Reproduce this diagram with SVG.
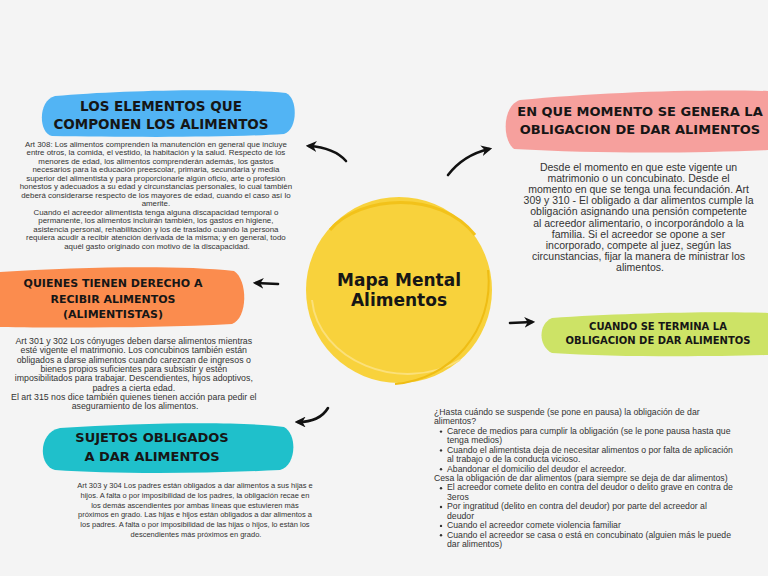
<svg xmlns="http://www.w3.org/2000/svg" width="768" height="576" viewBox="0 0 768 576">
<defs>
<style>
.hd{font-family:"DejaVu Sans",sans-serif;font-weight:bold;fill:#161616;text-anchor:middle}
.bd{font-family:"Liberation Sans",Arial,sans-serif;fill:#333;text-anchor:middle}
.bl{font-family:"Liberation Sans",Arial,sans-serif;fill:#333}
.con{fill:none;stroke:#111;stroke-width:2.6;stroke-linecap:round;marker-end:url(#ah)}
</style>
<marker id="ah" viewBox="0 0 10 10" refX="7" refY="5" markerWidth="4.2" markerHeight="4.2" orient="auto" markerUnits="strokeWidth">
<path d="M0,0 L10,5 L0,10 L3,5 Z" fill="#111"/>
</marker>
</defs>
<rect width="768" height="576" fill="#f4f4f4"/>

<g id="connectors">
<path class="con" d="M346 161 C338 152 325 147 309 146"/>
<path class="con" d="M448 175 C458 162 472 153 489 149"/>
<path class="con" d="M278 284 L256 283"/>
<path class="con" d="M510 323 L532 322"/>
<path class="con" d="M328 408 C322 418 310 422 298 422"/>
</g>

<g id="center">
<circle cx="399" cy="290" r="93" fill="#f8d23c"/>
<path d="M330 230 C360 195 440 190 475 235" fill="none" stroke="#f2c21a" stroke-width="3"/>
<path d="M312 300 C318 360 400 395 460 360" fill="none" stroke="#fbe07a" stroke-width="2"/>
<path d="M488 270 C495 330 450 380 395 384" fill="none" stroke="#efbd14" stroke-width="2"/>
<text class="hd" x="399" y="286" font-size="17">Mapa Mental</text>
<text class="hd" x="399" y="306" font-size="17">Alimentos</text>
</g>

<g id="n-elementos">
<path d="M55 96 C120 90 230 88 286 93 C298 98 298 130 284 134 C220 138 120 137 52 136 C38 133 38 100 55 96 Z" fill="#52b4f4"/>
<text class="hd" x="161" y="111" font-size="13.5">LOS ELEMENTOS QUE</text>
<text class="hd" x="161" y="129" font-size="13.5">COMPONEN LOS ALIMENTOS</text>
<text class="bd" font-size="7.9">
<tspan x="157" y="146.5">Art 308: Los alimentos comprenden la manutención en general que incluye</tspan>
<tspan x="157" dy="8.5">entre otros, la comida, el vestido, la habitación y la salud. Respecto de los</tspan>
<tspan x="157" dy="8.5">menores de edad, los alimentos comprenderán además, los gastos</tspan>
<tspan x="157" dy="8.5">necesarios para la educación preescolar, primaria, secundaria y media</tspan>
<tspan x="157" dy="8.5">superior del alimentista y para proporcionarle algún oficio, arte o profesión</tspan>
<tspan x="157" dy="8.5">honestos y adecuados a su edad y circunstancias personales, lo cual también</tspan>
<tspan x="157" dy="8.5">deberá considerarse respecto de los mayores de edad, cuando el caso así lo</tspan>
<tspan x="157" dy="8.5">amerite.</tspan>
<tspan x="157" dy="8.5">Cuando el acreedor alimentista tenga alguna discapacidad temporal o</tspan>
<tspan x="157" dy="8.5">permanente, los  alimentos incluirán también, los gastos en higiene,</tspan>
<tspan x="157" dy="8.5">asistencia personal, rehabilitación y los de traslado cuando la persona</tspan>
<tspan x="157" dy="8.5">requiera acudir a recibir atención derivada de la misma; y en general, todo</tspan>
<tspan x="157" dy="8.5">aquél gasto originado con motivo de la discapacidad.</tspan>
</text>
</g>

<g id="n-momento">
<path d="M520 100 C600 92 700 89 768 91 L768 150 C700 153 600 154 514 149 C502 140 502 106 520 100 Z" fill="#f6a09d"/>
<text class="hd" x="640" y="116" font-size="13">EN QUE MOMENTO SE GENERA LA</text>
<text class="hd" x="640" y="134" font-size="13">OBLIGACION DE DAR ALIMENTOS</text>
<text class="bd" font-size="10.5">
<tspan x="640" y="171">Desde el momento en que este vigente un</tspan>
<tspan x="640" dy="11.1">matrimonio o un concubinato. Desde el</tspan>
<tspan x="640" dy="11.1">momento en que se tenga una fecundación. Art</tspan>
<tspan x="640" dy="11.1">309 y 310 - El obligado a dar alimentos cumple la</tspan>
<tspan x="640" dy="11.1">obligación asignando una pensión competente</tspan>
<tspan x="640" dy="11.1">al acreedor alimentario, o incorporándolo a la</tspan>
<tspan x="640" dy="11.1">familia. Si el acreedor se opone a ser</tspan>
<tspan x="640" dy="11.1">incorporado, compete al juez, según las</tspan>
<tspan x="640" dy="11.1">circunstancias, fijar la manera de ministrar los</tspan>
<tspan x="640" dy="11.1">alimentos.</tspan>
</text>
</g>

<g id="n-quienes">
<path d="M0 272 C80 267 180 265 234 271 C248 280 248 318 232 324 C160 328 60 328 0 327 Z" fill="#fb8c4e"/>
<text class="hd" x="113" y="287" font-size="11">QUIENES TIENEN DERECHO A</text>
<text class="hd" x="113" y="303" font-size="11">RECIBIR ALIMENTOS</text>
<text class="hd" x="113" y="318" font-size="11">(ALIMENTISTAS)</text>
<text class="bd" font-size="8.8">
<tspan x="135" y="344">Art 301 y 302 Los cónyuges deben darse alimentos mientras</tspan>
<tspan x="135" dy="9.3">esté vigente el matrimonio. Los concubinos también están</tspan>
<tspan x="135" dy="9.3">obligados a darse alimentos cuando carezcan de ingresos o</tspan>
<tspan x="135" dy="9.3">bienes propios suficientes para subsistir y estén</tspan>
<tspan x="135" dy="9.3">imposibilitados para trabajar. Descendientes, hijos adoptivos,</tspan>
<tspan x="135" dy="9.3">padres a cierta edad.</tspan>
<tspan x="135" dy="9.3">El art 315 nos dice también quienes tienen acción para pedir el</tspan>
<tspan x="135" dy="9.3">aseguramiento de los alimentos.</tspan>
</text>
</g>

<g id="n-termina">
<path d="M552 318 C620 313 720 311 768 313 L768 355 C700 357 610 357 552 353 C538 346 538 324 552 318 Z" fill="#cde366"/>
<text class="hd" x="658" y="330" font-size="10">CUANDO SE TERMINA LA</text>
<text class="hd" x="658" y="344" font-size="10">OBLIGACION DE DAR ALIMENTOS</text>
<text class="bl" font-size="8.7">
<tspan x="434" y="415">¿Hasta cuándo se suspende (se pone en pausa) la obligación de dar</tspan>
<tspan x="434" dy="9.43">alimentos?</tspan>
<tspan x="447" dy="9.43">Carece de medios para cumplir la obligación (se le pone pausa hasta que</tspan>
<tspan x="447" dy="9.43">tenga medios)</tspan>
<tspan x="447" dy="9.43">Cuando el alimentista deja de necesitar alimentos o por falta de aplicación</tspan>
<tspan x="447" dy="9.43">al trabajo o de la conducta vicioso.</tspan>
<tspan x="447" dy="9.43">Abandonar el domicilio del deudor el acreedor.</tspan>
<tspan x="434" dy="9.43">Cesa la obligación de dar alimentos (para siempre se deja de dar alimentos)</tspan>
<tspan x="447" dy="9.43">El acreedor comete delito en contra del deudor o delito grave en contra de</tspan>
<tspan x="447" dy="9.43">3eros</tspan>
<tspan x="447" dy="9.43">Por ingratitud (delito en contra del deudor) por parte del acreedor al</tspan>
<tspan x="447" dy="9.43">deudor</tspan>
<tspan x="447" dy="9.43">Cuando el acreedor comete violencia familiar</tspan>
<tspan x="447" dy="9.43">Cuando el acreedor se casa o está en concubinato (alguien más le puede</tspan>
<tspan x="447" dy="9.43">dar alimentos)</tspan>
</text>
<g fill="#333">
<circle cx="441" cy="431.6" r="1.2"/>
<circle cx="441" cy="450.4" r="1.2"/>
<circle cx="441" cy="469.3" r="1.2"/>
<circle cx="441" cy="488.2" r="1.2"/>
<circle cx="441" cy="507" r="1.2"/>
<circle cx="441" cy="525.9" r="1.2"/>
<circle cx="441" cy="535.3" r="1.2"/>
</g>
</g>

<g id="n-sujetos">
<path d="M60 428 C140 423 240 421 284 427 C298 435 296 466 280 470 C200 474 110 474 55 470 C38 466 38 432 60 428 Z" fill="#1fc0cb"/>
<text class="hd" x="152" y="442" font-size="13">SUJETOS OBLIGADOS</text>
<text class="hd" x="152" y="461" font-size="13">A DAR ALIMENTOS</text>
<text class="bd" font-size="7.5">
<tspan x="196" y="488">Art 303 y 304 Los padres están obligados a dar alimentos a sus hijas e</tspan>
<tspan x="196" dy="9.8">hijos. A falta o por imposibilidad de los padres, la obligación recae en</tspan>
<tspan x="196" dy="9.8">los demás ascendientes por ambas líneas que estuvieren más</tspan>
<tspan x="196" dy="9.8">próximos en grado. Las hijas e hijos están obligados a dar alimentos a</tspan>
<tspan x="196" dy="9.8">los padres. A falta o por imposibilidad de las hijas o hijos, lo están los</tspan>
<tspan x="196" dy="9.8">descendientes más próximos en grado.</tspan>
</text>
</g>
</svg>
